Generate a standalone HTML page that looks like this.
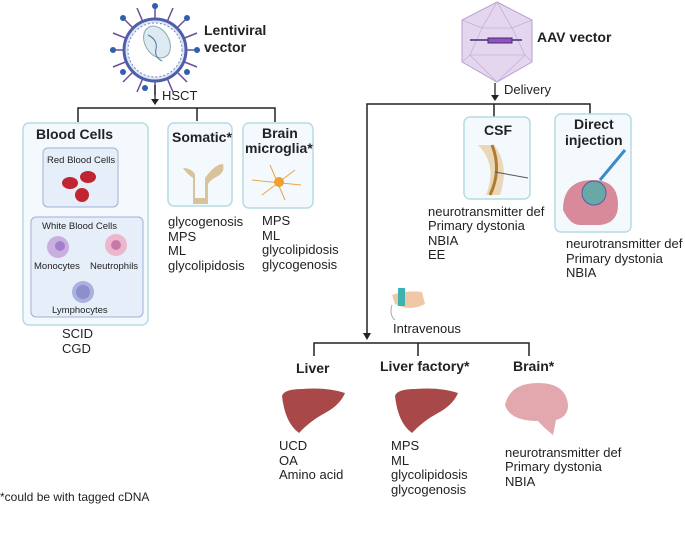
<!DOCTYPE html>
<html><head><meta charset="utf-8"><style>
body{margin:0;background:#fff;width:685px;height:537px;overflow:hidden}
svg{display:block}
text{font-family:"Liberation Sans",sans-serif;fill:#222}
.b{font-weight:bold;font-size:14px}
.t{font-size:13px}
.s{font-size:9.5px}
</style></head><body>
<svg width="685" height="537" viewBox="0 0 685 537">
<!-- Lentivirus -->
<g stroke="#6b4c9a" stroke-width="1.5">
<line x1="155" y1="5" x2="155" y2="95"/><line x1="110" y1="50" x2="200" y2="50"/>
<line x1="123" y1="18" x2="187" y2="82"/><line x1="187" y1="18" x2="123" y2="82"/>
<line x1="137" y1="8" x2="173" y2="92"/><line x1="173" y1="8" x2="137" y2="92"/>
<line x1="113" y1="33" x2="197" y2="67"/><line x1="113" y1="67" x2="197" y2="33"/>
</g>
<g fill="#2f5fb0">
<circle cx="155" cy="6" r="3"/><circle cx="123" cy="18" r="3"/><circle cx="187" cy="18" r="3"/><circle cx="113" cy="50" r="3"/><circle cx="197" cy="50" r="3"/><circle cx="123" cy="72" r="3"/><circle cx="187" cy="72" r="3"/><circle cx="145" cy="88" r="3"/>
</g>
<circle cx="155" cy="50" r="31" fill="#dfe6f4" stroke="#4e5ea8" stroke-width="3"/>
<circle cx="155" cy="50" r="27" fill="#fff" stroke="#7a86c0" stroke-width="1" stroke-dasharray="2 2"/>
<ellipse cx="157" cy="42" rx="12" ry="17" fill="#dde9f3" stroke="#8aa" transform="rotate(-30 157 42)"/>
<path d="M148 35 q10 5 8 14 q-2 8 6 12" stroke="#4a7a9a" fill="none"/>
<text x="204" y="35" class="b">Lentiviral</text>
<text x="204" y="52" class="b">vector</text>
<!-- HSCT arrow -->
<line x1="155" y1="85" x2="155" y2="100" stroke="#222" stroke-width="1.3"/>
<path d="M151 99 L155 105 L159 99Z" fill="#222"/>
<text x="162" y="100" class="t">HSCT</text>
<path d="M78 122 V108 H275 V122 M197 108 V121" stroke="#222" stroke-width="1.5" fill="none"/>
<!-- Blood cells -->
<rect x="23" y="123" width="125" height="202" rx="6" fill="#f4f9fd" stroke="#b5dce3" stroke-width="1.5"/>
<text x="36" y="139" class="b">Blood Cells</text>
<rect x="43" y="148" width="75" height="59" rx="5" fill="#e6eef9" stroke="#9fb0d8"/>
<text x="47" y="163" class="s">Red Blood Cells</text>
<ellipse cx="70" cy="183" rx="8" ry="6" fill="#c0262f"/><ellipse cx="88" cy="177" rx="8" ry="6" fill="#c0262f"/><ellipse cx="82" cy="195" rx="7" ry="7" fill="#c0262f"/>
<rect x="31" y="217" width="112" height="100" rx="5" fill="#e6eef9" stroke="#9fb0d8"/>
<text x="42" y="229" class="s">White Blood Cells</text>
<circle cx="58" cy="247" r="11" fill="#c9aee0"/><circle cx="60" cy="246" r="5" fill="#a27fcb"/>
<circle cx="116" cy="245" r="11" fill="#ecb6cd"/><circle cx="116" cy="245" r="5" fill="#c87aa6"/>
<text x="34" y="269" class="s">Monocytes</text><text x="90" y="269" class="s">Neutrophils</text>
<circle cx="83" cy="292" r="11" fill="#aab1dd"/><circle cx="83" cy="292" r="7" fill="#8c8fcd"/>
<text x="52" y="313" class="s">Lymphocytes</text>
<text x="62" y="338" class="t">SCID</text><text x="62" y="353" class="t">CGD</text>
<!-- Somatic -->
<rect x="168" y="123" width="64" height="83" rx="6" fill="#f4f9fd" stroke="#b5dce3" stroke-width="1.5"/>
<text x="172" y="142" class="b">Somatic*</text>
<path d="M183 168 q8 0 12 6 l0 24 l10 0 l0 -20 q10 -14 18 -14 q2 8 -5 12 q-8 4 -10 8 l0 20 l-15 0 l0 -26 q-6 -4 -10 -10z" fill="#d9c39a"/>
<rect x="243" y="123" width="70" height="85" rx="6" fill="#f4f9fd" stroke="#b5dce3" stroke-width="1.5"/>
<text x="262" y="138" class="b">Brain</text><text x="245" y="153" class="b">microglia*</text>
<g stroke="#e8a64a" stroke-width="1"><line x1="252" y1="180" x2="301" y2="185"/><line x1="270" y1="165" x2="285" y2="200"/><line x1="295" y1="170" x2="262" y2="195"/></g>
<circle cx="279" cy="182" r="5" fill="#f0a02e"/>
<g class="t"><text x="168" y="226">glycogenosis</text><text x="168" y="241">MPS</text><text x="168" y="255">ML</text><text x="168" y="270">glycolipidosis</text></g>
<g class="t"><text x="262" y="225">MPS</text><text x="262" y="240">ML</text><text x="262" y="254">glycolipidosis</text><text x="262" y="269">glycogenosis</text></g>
<!-- AAV -->
<polygon points="497,2 532,20 532,62 497,82 462,62 462,20" fill="#e5d6ef" stroke="#b79fcf"/>
<g stroke="#c5b0dc" stroke-width="0.8" fill="none"><path d="M497 2 L482 28 L512 28 Z M462 20 L482 28 L470 55 L462 62 M532 20 L512 28 L525 55 L532 62 M470 55 L497 82 L525 55 Z M482 28 L470 55 M512 28 L525 55"/></g>
<rect x="488" y="38" width="24" height="5" fill="#8e54c5" stroke="#4a2b70"/>
<path d="M470 40 H488 M512 40 H522" stroke="#4a2b70" stroke-width="1.5"/>
<text x="537" y="42" class="b">AAV vector</text>
<line x1="495" y1="83" x2="495" y2="96" stroke="#222" stroke-width="1.3"/>
<path d="M491 95 L495 101 L499 95Z" fill="#222"/>
<text x="504" y="94" class="t">Delivery</text>
<path d="M590 115 V104 H367 V334 M494 104 V117" stroke="#222" stroke-width="1.5" fill="none"/>
<path d="M363 333 L367 340 L371 333Z" fill="#222"/>
<!-- CSF -->
<rect x="464" y="117" width="66" height="82" rx="6" fill="#f4f9fd" stroke="#b5dce3" stroke-width="1.5"/>
<text x="484" y="135" class="b">CSF</text>
<path d="M478 145 q20 20 8 50 l14 0 q10 -30 -6 -50z" fill="#e9d7b8"/>
<path d="M492 145 q10 25 -2 50" stroke="#b07a30" stroke-width="3" fill="none"/>
<line x1="495" y1="172" x2="528" y2="178" stroke="#555"/>
<rect x="555" y="114" width="76" height="118" rx="6" fill="#f4f9fd" stroke="#b5dce3" stroke-width="1.5"/>
<text x="574" y="129" class="b">Direct</text><text x="565" y="145" class="b">injection</text>
<path d="M563 210 q0 -30 30 -30 q25 0 25 25 q0 18 -18 20 l-20 0 q-10 0 -17 -15z" fill="#d98a9a"/>
<circle cx="594" cy="193" r="12" fill="#6aa8a8" stroke="#4e5ea8"/>
<line x1="600" y1="180" x2="625" y2="150" stroke="#3a8cc8" stroke-width="3"/>
<g class="t"><text x="428" y="216">neurotransmitter def</text><text x="428" y="230">Primary dystonia</text><text x="428" y="245">NBIA</text><text x="428" y="259">EE</text></g>
<g class="t"><text x="566" y="248">neurotransmitter def</text><text x="566" y="263">Primary dystonia</text><text x="566" y="277">NBIA</text></g>
<!-- IV -->
<path d="M392 295 q15 -5 30 -3 l3 12 q-15 8 -30 0z" fill="#f0c8a6"/>
<rect x="398" y="288" width="7" height="18" fill="#3cb3b0"/>
<path d="M392 305 q-3 10 3 15" stroke="#aaa" fill="none"/>
<text x="393" y="333" class="t">Intravenous</text>
<!-- bottom tree -->
<path d="M314 356 V343 H529 V356 M418 343 V356" stroke="#222" stroke-width="1.5" fill="none"/>
<text x="296" y="373" class="b">Liver</text>
<text x="380" y="371" class="b">Liver factory*</text>
<text x="513" y="371" class="b">Brain*</text>
<g fill="#a84848"><path d="M282 396 q2 -7 20 -7 q25 -2 43 4 q-5 12 -20 20 q-15 8 -26 20 q-14 -10 -17 -37z"/><path d="M395 396 q2 -7 20 -7 q25 -2 43 4 q-5 12 -20 20 q-15 8 -26 20 q-14 -10 -17 -37z"/></g>
<path d="M505 405 q5 -22 33 -22 q28 0 30 22 q0 12 -12 15 l-3 15 q-10 -8 -15 -14 q-28 0 -33 -16z" fill="#e2a8ae"/>
<g class="t"><text x="279" y="450">UCD</text><text x="279" y="465">OA</text><text x="279" y="479">Amino acid</text></g>
<g class="t"><text x="391" y="450">MPS</text><text x="391" y="465">ML</text><text x="391" y="479">glycolipidosis</text><text x="391" y="494">glycogenosis</text></g>
<g class="t"><text x="505" y="457">neurotransmitter def</text><text x="505" y="471">Primary dystonia</text><text x="505" y="486">NBIA</text></g>
<text x="0" y="501" style="font-size:12px">*could be with tagged cDNA</text>
</svg>
</body></html>
